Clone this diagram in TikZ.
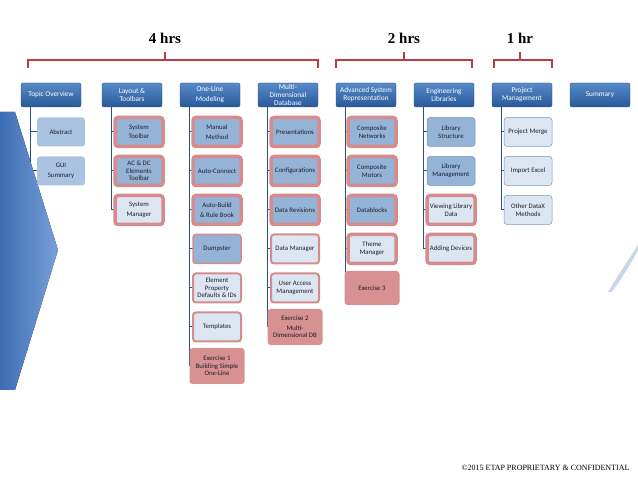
\documentclass[tikz,border=0pt]{standalone}
\usepackage{fontspec}
\setmainfont{Carlito}
\newfontfamily\serifb{Liberation Serif}
\usetikzlibrary{backgrounds}
\definecolor{htop}{RGB}{88,138,200}
\definecolor{hbot}{RGB}{40,90,155}
\definecolor{hdraw}{RGB}{40,80,140}
\definecolor{ktext}{RGB}{30,30,40}
\definecolor{medc}{RGB}{149,179,215}
\definecolor{palec}{RGB}{220,230,242}
\definecolor{lightc}{RGB}{170,195,225}
\definecolor{haloc}{RGB}{214,140,140}
\definecolor{thinc}{RGB}{120,150,190}
\definecolor{exc}{RGB}{216,145,145}
\definecolor{brkc}{RGB}{190,60,60}
\definecolor{chevl}{RGB}{60,110,180}
\definecolor{chevr}{RGB}{120,160,215}
\definecolor{swoosh}{RGB}{200,215,235}
\begin{document}
\begin{tikzpicture}[x=1pt,y=-1pt,
 hdr/.style={rounded corners=2pt,top color=htop,bottom color=hbot,draw=hdraw,line width=0.4pt,text=white,minimum width=60pt,minimum height=24pt,align=center,font=\fontsize{7.3}{8}\selectfont,inner sep=1pt},
 kid/.style={rounded corners=3pt,minimum width=48pt,minimum height=29pt,align=center,font=\fontsize{6.8}{7.6}\selectfont,inner sep=1pt,text=ktext},
 med/.style={kid,fill=medc},
 pale/.style={kid,fill=palec},
 halo/.style={draw=haloc,line width=3.5pt},
 thin/.style={draw=thinc,line width=0.5pt},
 ex/.style={kid,fill=exc,minimum width=55pt,minimum height=36pt},
 tree/.style={draw=hdraw,line width=1pt},
 brk/.style={draw=brkc,line width=1.2pt},
 hrs/.style={font=\serifb\bfseries\fontsize{15}{16}\selectfont}]
\useasboundingbox (0,0) rectangle (638,478);
% left chevron
\fill[left color=chevl,right color=chevr] (0,112) -- (15,112) -- (58,250) -- (15,390) -- (0,390) -- cycle;
\fill[swoosh] (638,245) .. controls (625,265) and (615,280) .. (608,292) -- (612,292) .. controls (622,278) and (632,262) .. (638,250) -- cycle;
% headers
\node[hdr] (h1) at (51,95) {Topic Overview};
\node[hdr] (h2) at (132,95) {Layout \&\\Toolbars};
\node[hdr] (h3) at (210,95) {One-Line\\[2pt]Modeling};
\node[hdr] (h4) at (288,95) {Multi-\\Dimensional\\Database};
\node[hdr] (h5) at (366,95) {Advanced System\\Representation};
\node[hdr] (h6) at (444,95) {Engineering\\Libraries};
\node[hdr] (h7) at (522,95) {Project\\Management};
\node[hdr] (h8) at (600,95) {Summary};
% col1
\node[kid,fill=lightc] (a1) at (61,132) {Abstract};
\node[kid,fill=lightc] (a2) at (61,171) {GUI\\[2pt]Summary};
% col2
\node[med,halo] (b1) at (139,132) {System\\[2pt]Toolbar};
\node[med,halo] (b2) at (139,171) {AC \& DC\\Elements\\Toolbar};
\node[pale,halo] (b3) at (139,210) {System\\[2pt]Manager};
% col3
\node[med,halo] (c1) at (217,132) {Manual\\[2pt]Method};
\node[med,halo] (c2) at (217,171) {Auto-Connect};
\node[med,halo] (c3) at (217,210) {Auto-Build\\[2pt]\& Rule Book};
\node[med,halo,line width=1.5pt] (c4) at (217,249) {Dumpster};
\node[pale,halo,line width=2pt] (c5) at (217,288) {Element\\Property\\Defaults \& IDs};
\node[pale,halo,line width=2pt] (c6) at (217,327) {Templates};
\node[ex] (c7) at (217,366) {Exercise 1\\Building Simple\\One-Line};
% col4
\node[med,halo] (d1) at (295,132) {Presentations};
\node[med,halo] (d2) at (295,171) {Configurations};
\node[med,halo] (d3) at (295,210) {Data Revisions};
\node[pale,halo,line width=2pt] (d4) at (295,249) {Data Manager};
\node[pale,halo,line width=2pt] (d5) at (295,288) {User Access\\Management};
\node[ex] (d6) at (295,327) {Exercise 2\\[2pt]Multi-\\Dimensional DB};
% col5
\node[med,halo] (e1) at (372,132) {Composite\\Networks};
\node[med,halo] (e2) at (372,171) {Composite\\Motors};
\node[med,halo] (e3) at (372,210) {Datablocks};
\node[pale,halo] (e4) at (372,249) {Theme\\Manager};
\node[ex,minimum height=34pt] (e5) at (372,288) {Exercise 3};
% col6
\node[med,thin] (f1) at (451,132) {Library\\Structure};
\node[med,thin] (f2) at (451,171) {Library\\Management};
\node[pale,halo] (f3) at (451,210) {Viewing Library\\Data};
\node[pale,halo] (f4) at (451,249) {Adding Devices};
% col7
\node[pale,thin] (g1) at (528,132) {Project Merge};
\node[pale,thin] (g2) at (528,171) {Import Excel};
\node[pale,thin] (g3) at (528,210) {Other DataX\\Methods};
% trees
\begin{scope}[on background layer]
\foreach \h/\list in {h1/{a1,a2},h2/{b1,b2,b3},h3/{c1,c2,c3,c4,c5,c6,c7},h4/{d1,d2,d3,d4,d5,d6},h5/{e1,e2,e3,e4,e5},h6/{f1,f2,f3,f4},h7/{g1,g2,g3}}{
  \foreach \c in \list { \draw[tree] ([xshift=-21pt]\h.south) |- (\c.center); }
}
\end{scope}
% brackets
\draw[brk] (28,68) -- (28,60) -- (318,60) -- (318,68) (165,60) -- (165,52);
\draw[brk] (336,68) -- (336,60) -- (472,60) -- (472,68) (404,60) -- (404,52);
\draw[brk] (494,68) -- (494,60) -- (552,60) -- (552,68) (520,60) -- (520,52);
\node[hrs] (t1) at (165,38) {4 hrs};
\node[hrs] (t2) at (404,38) {2 hrs};
\node[hrs] (t3) at (520,38) {1 hr};
\node[font=\serifb\fontsize{8}{9}\selectfont,anchor=east] (ft) at (633,468) {©2015 ETAP PROPRIETARY \& CONFIDENTIAL};
\end{tikzpicture}
\end{document}
